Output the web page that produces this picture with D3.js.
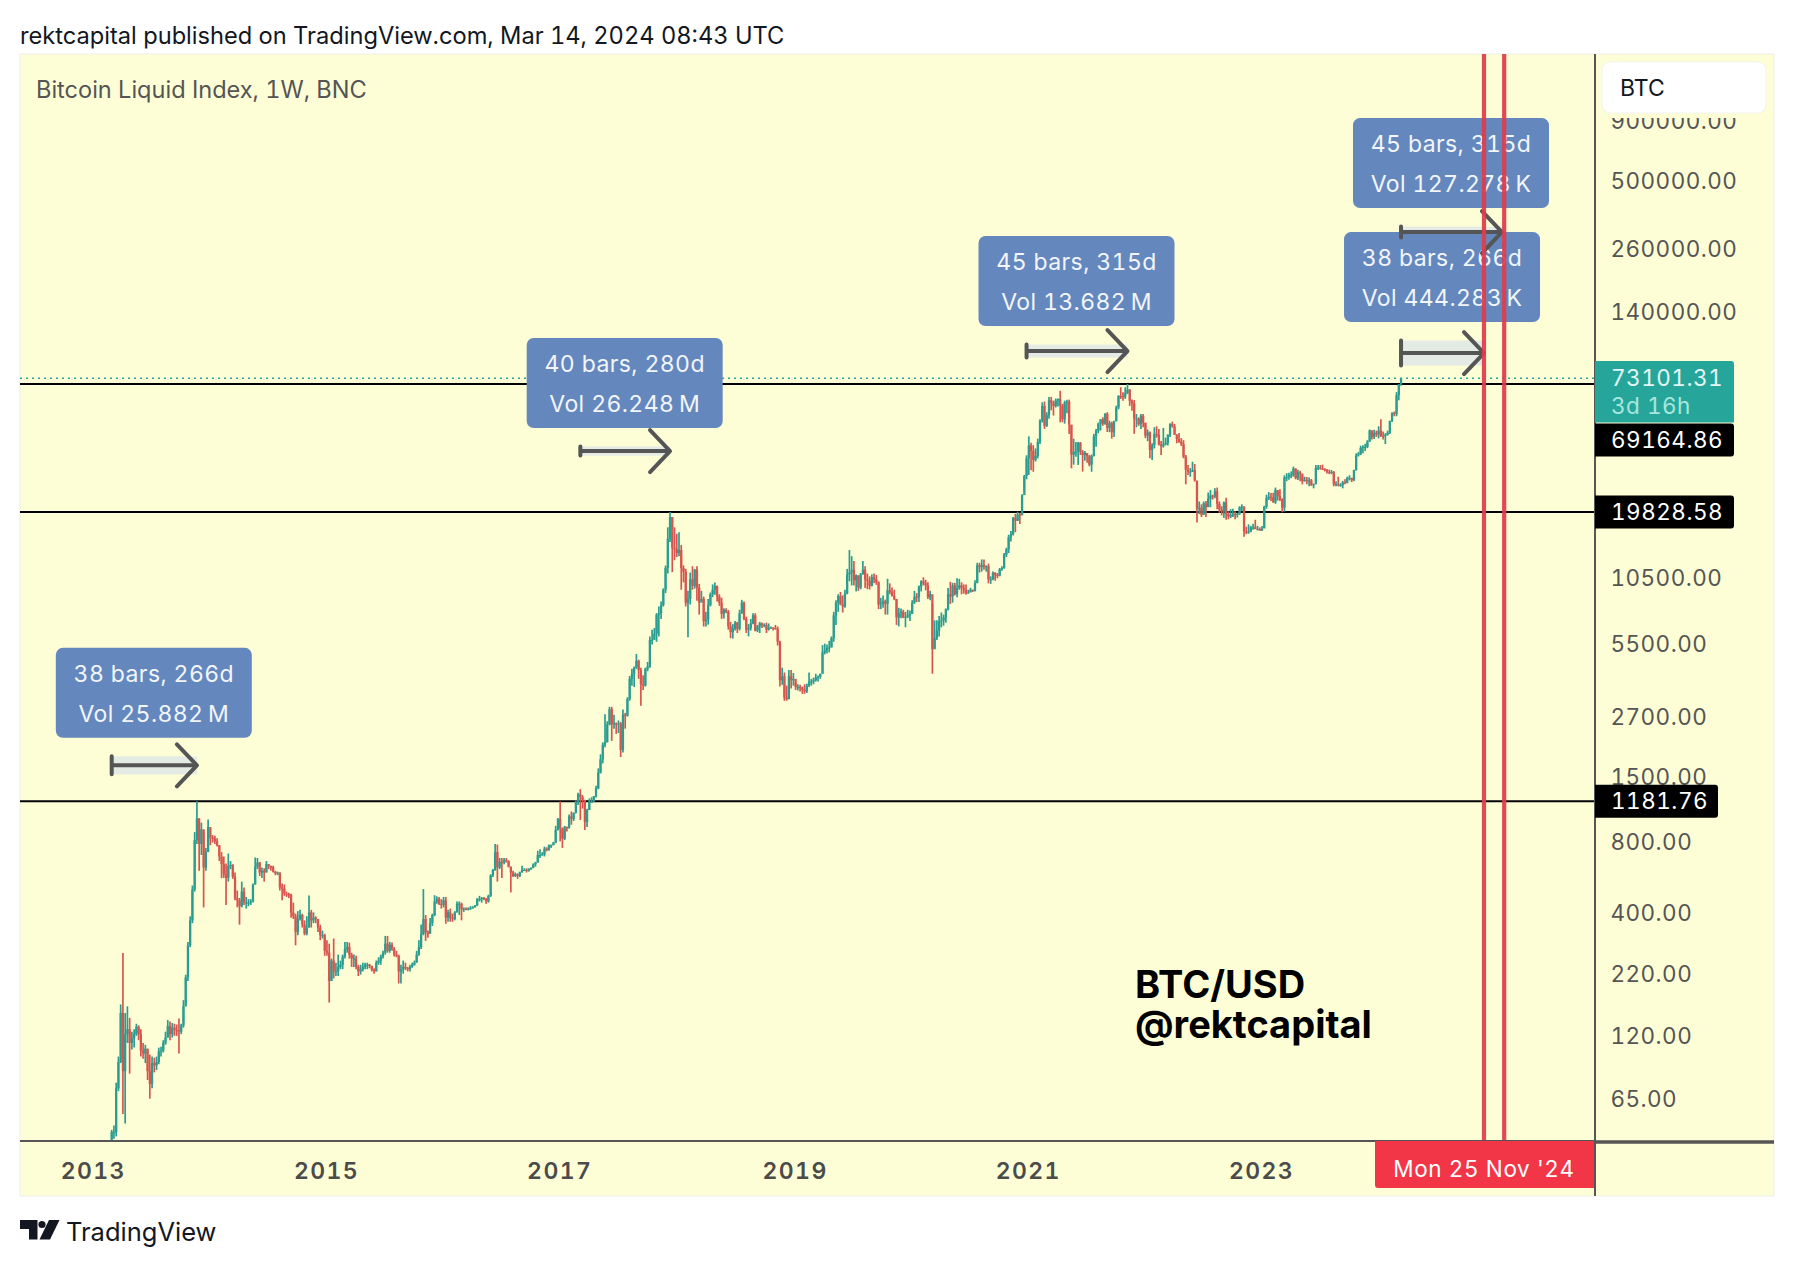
<!DOCTYPE html>
<html><head><meta charset="utf-8">
<script src="https://cdn.jsdelivr.net/npm/d3@7"></script>
<style>html,body{margin:0;background:#fff}svg{display:block}text{font-family:Inter,"Noto Sans",sans-serif;font-variant-numeric:tabular-nums}</style>
</head><body><svg id="c" width="1794" height="1266"></svg>
<script>
// weekly bars, first Monday 2013-03-04; every row holds ten weeks
const firstWeek = "2013-03-04";
const highs = [
48,50,76,98,163,269,150,160,143,125,
128,135,133,128,112,110,105,100,98,97,
98,107,108,115,125,140,138,136,135,134,
142,135,170,218,300,385,520,875,1181,1000,
960,873,750,990,850,850,845,825,770,720,
690,645,710,660,640,590,495,460,540,510,
465,455,455,530,683,680,655,620,615,660,
640,630,630,600,595,590,530,525,490,485,
480,440,395,405,410,395,370,385,472,410,
400,385,370,355,335,325,305,295,255,310,
245,265,250,265,300,300,298,270,265,262,
240,240,245,245,245,242,238,232,250,258,
265,275,318,318,300,298,285,275,265,240,
250,245,235,240,245,250,275,305,355,502,
390,335,379,395,473,468,465,455,465,465,
410,415,395,405,445,445,440,420,420,420,
425,425,430,460,470,465,465,460,475,580,
610,780,775,680,680,680,680,665,625,600,
590,585,595,630,615,615,615,620,645,655,
730,740,720,760,755,775,775,795,930,1005,
1180,915,930,925,1040,1070,1060,1190,1285,1330,
1255,1180,1100,1215,1230,1245,1375,1630,1870,2100,
2760,2580,2970,2970,2750,2550,2600,2560,2890,2800,
3260,4010,4300,4400,4970,4700,4350,4040,4350,4600,
5900,6300,6400,7400,7900,8300,9430,11780,17100,19828.58,
18900,17100,16060,16300,14400,11800,11400,9200,11000,11700,
11400,11700,9850,9200,8700,7500,8500,9050,9800,9990,
9700,8900,8600,7770,7770,7630,6800,6650,6850,6800,
7650,8430,8300,7150,6650,7000,7400,7400,6600,6800,
6750,6700,6750,6700,6500,6450,6600,6500,5650,4350,
4150,3650,4250,4250,4130,3750,3700,3680,3620,3700,
3720,4150,3900,3950,4100,4030,4100,5420,5500,5450,
5650,5900,7500,8400,8900,9100,8800,9300,11400,13700,
12900,12300,10800,10700,10950,12300,11700,10900,10600,10800,
10900,10750,10100,8600,8800,8450,10350,9900,9500,9300,
8500,7800,7750,7650,7500,7650,7600,8400,9200,9000,
9700,10200,10500,10250,10000,9200,8100,6900,6900,7200,
7450,7300,7750,9450,10050,9950,9950,10400,10350,10000,
9800,9800,9300,9480,9300,10200,12100,12100,12500,12500,
11800,12000,10600,11100,11000,10950,11500,11700,13300,14000,
15900,16500,18900,19500,19900,19700,23600,28500,34500,41500,
39000,38100,36900,40600,49100,57900,58300,52500,61000,61000,
58800,60000,60000,64800,57000,58800,59300,59400,46500,40600,
39300,39300,39300,36300,36000,35000,34600,34800,42550,44650,
47500,49100,50000,52000,52500,48350,47900,48300,56000,62000,
67000,63800,67000,69164.86,65800,59500,59100,51600,50000,51600,
51600,47500,44400,43500,38800,45350,45800,44650,39700,45100,
41000,42300,47200,47900,46900,42400,42900,40800,40000,34600,
31400,30500,32400,31700,26700,22000,21400,22000,22100,24000,
24600,23500,25000,25200,22000,21000,22000,22800,20000,20400,
20500,20000,19700,21000,21400,21000,17200,17600,17350,17700,
18400,17350,17100,17300,21100,23500,24100,23900,23950,25200,
24400,24800,22700,28400,29000,29100,29500,30900,30400,30000,
29700,28000,28000,27900,27800,27400,26200,31400,31400,31400,
31500,30400,30200,30000,29900,29600,26800,28000,26300,26900,
27300,28000,28400,27700,30000,35200,35700,37900,38100,38600,
40000,44400,44000,44300,43900,45800,49000,43500,42800,43900,
48300,52500,52900,63900,69000,73101.31];
const lows = [
44,44,45,70,92,56,51,112,83,105,
107,120,115,98,96,92,78,65,72,84,
86,91,98,102,110,118,115,118,120,120,
101,122,130,160,205,285,360,490,780,600,
700,420,600,760,770,790,780,760,660,558,
560,430,540,610,555,450,420,355,420,430,
415,425,430,440,525,610,570,560,540,590,
610,600,590,575,575,495,450,470,465,460,
380,375,290,320,370,345,320,320,345,345,
360,360,330,305,310,262,262,166,205,210,
215,215,230,230,255,270,255,235,235,230,
215,218,225,230,230,232,225,220,225,240,
240,255,265,270,270,275,260,258,200,200,
220,228,225,225,233,238,245,262,280,320,
303,312,325,350,385,435,430,415,420,358,
365,365,365,370,400,390,370,402,408,408,
410,415,420,425,445,440,450,435,440,465,
565,600,540,610,560,640,650,620,486,565,
565,555,565,590,600,590,595,605,615,625,
650,680,695,690,725,730,750,770,785,890,
800,750,810,880,905,940,975,1050,1140,985,
1100,893,920,1085,1165,1170,1225,1330,1550,1710,
2000,2100,2480,2130,2400,2280,2300,1820,1900,2400,
2700,3150,3650,3600,4300,3900,3000,3500,3620,4200,
4350,5450,5900,5600,5900,7000,7900,9000,10900,14800,
11050,12400,12800,12900,9300,10000,7900,5850,8050,9300,
9400,8350,7300,8300,6500,6500,6620,7900,8650,8850,
8300,7950,7000,7030,7400,6300,5800,5780,6250,6100,
6250,7350,6900,6100,5900,6250,6650,6200,6150,6100,
6400,6450,6100,6250,6380,6250,6300,5400,3620,3680,
3150,3150,3200,3550,3650,3500,3480,3450,3370,3370,
3400,3600,3650,3700,3800,3800,3900,4100,4950,5000,
5050,5300,5600,6600,7500,8000,7450,7800,8900,10100,
9700,9700,9150,9200,9350,10800,9450,9350,9320,9600,
9900,9750,7700,7700,7800,7300,7300,8900,8700,8400,
6600,6500,7050,7050,6450,7050,6850,7350,8100,8250,
8250,9150,9700,9250,8500,8400,4100,5300,5700,5900,
6450,6550,6750,7600,8100,8200,8800,8650,9300,8900,
8950,8850,8950,9100,9100,9150,9900,11000,11100,11300,
11100,9900,9850,10200,10150,10400,10600,11200,11400,12800,
13300,14900,15800,16300,18200,17650,19400,24300,27300,28500,
29800,29400,32450,33500,38500,47500,44650,45500,49300,53500,
50850,55000,55500,47600,47600,47000,52000,42500,30400,31500,
34000,31400,34600,29450,32700,32100,31000,29400,34100,37500,
42800,43950,46000,46500,43300,43250,40600,41200,48000,54000,
59800,58800,59800,62700,55900,53300,42550,45350,46000,44650,
45350,40800,39600,33500,32950,36900,41000,38000,34600,37200,
38000,38000,41200,45200,42100,38800,39000,37800,33500,26000,
28500,28000,29300,26700,17900,19450,18900,19300,18900,20900,
20800,22400,22700,20400,19700,19200,18700,18400,18500,18700,
18900,18500,18800,19300,20000,15600,16000,16050,16300,16700,
16800,16600,16550,16550,17000,20500,22300,22100,21750,21500,
22200,22100,19800,19900,26800,27200,27600,28000,27300,27100,
26800,26000,26700,26000,25500,25600,25000,26200,29900,30000,
29900,29500,28900,28700,28700,25500,25500,25500,25400,25000,
26000,26300,27000,26600,26800,29700,34100,34600,35200,36000,
37000,39300,40300,40500,41300,40700,41200,40300,38500,41800,
42500,47700,50500,50500,59000,68000];
const closes = [
47,47,72,93,150,85,122,128,112,117,
122,131,122,104,101,106,85,75,92,90,
93,103,104,112,118,132,122,130,127,126,
125,133,160,212,290,370,500,810,1000,780,
900,620,720,920,830,820,800,770,690,640,
580,560,630,635,565,460,450,425,490,440,
440,440,445,525,625,650,590,600,590,640,
630,620,595,585,590,510,505,480,478,475,
400,385,330,375,390,355,325,345,400,370,
380,375,345,320,320,275,270,205,250,225,
225,235,240,260,280,285,265,255,255,235,
225,230,235,240,240,237,228,225,245,250,
260,270,295,275,292,280,265,262,225,230,
235,232,230,235,240,245,265,285,325,375,
330,325,360,390,445,455,435,430,450,380,
400,378,375,400,435,435,412,415,410,415,
418,420,428,455,455,460,455,445,470,575,
605,720,620,655,650,665,660,625,590,570,
580,570,590,605,605,600,612,618,640,650,
700,700,705,745,735,770,770,790,895,995,
905,820,920,915,1020,995,1055,1180,1265,1230,
1200,965,1085,1180,1180,1240,1340,1560,1780,2050,
2100,2500,2900,2500,2530,2500,2520,1950,2750,2720,
3200,3900,4100,4350,4650,4250,3700,3650,4300,4400,
5700,5700,6050,7300,7400,8000,9300,11500,15300,18900,
14000,13800,13300,13700,11500,11100,8200,8500,10300,9650,
11300,9500,8200,8500,6850,6950,8000,8900,9300,9650,
8700,8200,7350,7650,7500,6500,6150,6350,6750,6350,
7400,8200,7000,6300,6400,6700,7250,6250,6500,6700,
6600,6600,6300,6400,6420,6400,6350,5600,3850,4000,
3250,3200,4000,3850,3900,3600,3600,3580,3500,3450,
3650,3800,3800,3850,3950,3980,4100,5050,5150,5280,
5300,5800,7250,8200,8750,8050,7900,8950,10800,11000,
11300,10200,10700,9500,10800,11300,10300,10150,9650,10500,
10300,10000,8050,8150,8300,8100,9250,9100,8750,8500,
7100,7400,7500,7100,7150,7250,7350,8200,8700,8650,
9600,10100,9900,9700,8650,8900,5200,5800,6250,6850,
6900,7100,7700,8900,8700,9700,8900,9450,9700,9450,
9300,9000,9050,9300,9200,9950,11800,11600,11850,11650,
11700,10300,10300,11000,10750,10650,11350,11500,13100,13800,
15500,16000,18700,18200,19350,19200,23400,28200,33500,38000,
36000,33000,34300,39300,48500,55900,46000,51000,59000,57400,
55800,58800,59800,56000,49000,57800,58200,46500,34700,35700,
35800,39000,35600,34600,35300,34200,31500,34300,41500,43800,
47000,49000,47000,51800,45000,47200,43200,48200,55000,61500,
61300,61000,63300,65500,58700,57200,49300,49300,46800,50800,
47300,41800,43100,36300,38100,42500,42100,38300,37700,38400,
39000,42200,46800,45800,42200,40400,39400,38500,34000,30000,
29400,29400,29900,27000,20500,20700,19300,21600,20800,22600,
23300,23100,24300,21500,20300,20000,21800,19400,19000,19300,
19400,19300,19500,20800,20900,16400,16300,16400,17100,17100,
16800,16800,16550,16900,20900,22700,23000,22900,21800,24600,
23200,22400,20700,27800,27900,28400,28400,30300,27600,29200,
28900,26800,27100,26800,27000,25800,26000,30500,30600,30300,
30250,29800,29300,29050,29300,26000,26000,25800,25800,26500,
26300,27700,27700,27100,29900,34500,35000,37100,37400,37450,
39500,44000,41300,43000,42300,43900,41700,41600,42100,43000,
48300,52100,51600,62000,68900,73101.31];
const openFirst = 40;

const priceTicks = [900000,500000,260000,140000,10500,5500,2700,1500,800,400,220,120,65];
const yearTicks = ["2013-01-07","2015-01-05","2017-01-02","2019-01-07","2021-01-04","2023-01-02"];
const levels = [69164.86,19828.58,1181.76];
const lastPrice = 73101.31;
const lastCountdown = "3d 16h";
const redDates = ["2024-11-25","2025-01-27"];
const redDateLabel = "Mon 25 Nov '24";
const rangeStarts = ["2013-03-04","2017-03-06","2020-12-28","2024-03-11","2024-03-11"];
const rangeEnds   = ["2013-11-25","2017-12-11","2021-11-08","2024-11-25","2025-01-20"];
const rangeTops   = [1832,37600,101600,105600,321000];
const rangeBottoms= [1537,34400,89500,82800,288400];
const rangeLine1  = ["38 bars, 266d","40 bars, 280d","45 bars, 315d","38 bars, 266d","45 bars, 315d"];
const rangeLine2  = ["Vol 25.882\u2009M","Vol 26.248\u2009M","Vol 13.682\u2009M","Vol 444.283\u2009K","Vol 127.278\u2009K"];

const L=20,R=1595,T=54,B=1141,PR=1774,PB=1196;
const BG="#fefed6",TEAL="#26a69a",BAR_UP="#2a9d90",BAR_DN="#d8554f",AX="#565656",BLUE="#6488bd",LINE="#e13c4b";
const parse=d3.utcParse("%Y-%m-%d");
const x=d3.scaleUtc().domain([parse(firstWeek),parse("2024-11-25")]).range([111.7,1484]);
const y=d3.scaleLog().domain([1181.76,69164.86]).range([801.3,384]);
const bars=closes.map((c,i)=>({d:d3.utcDay.offset(parse(firstWeek),i*7),h:highs[i],l:lows[i],c,o:i?closes[i-1]:openFirst}));
const svg=d3.select("#c");
svg.append("rect").attr("width",1794).attr("height",1266).attr("fill","#fff");
svg.append("text").attr("x",20).attr("y",44).attr("font-size",23.65).attr("fill","#131722").text("rektcapital published on TradingView.com, Mar 14, 2024 08:43 UTC");
svg.append("rect").attr("x",L).attr("y",T).attr("width",PR-L).attr("height",PB-T).attr("fill",BG).attr("stroke","#eeeeea").attr("stroke-width",1);
svg.append("text").attr("x",36).attr("y",98).attr("font-size",23.55).attr("fill","#555").text("Bitcoin Liquid Index, 1W, BNC");

const defs=svg.append("defs");
defs.append("clipPath").attr("id","plot").append("rect").attr("x",L).attr("y",T).attr("width",R-L).attr("height",B-T);
const plot=svg.append("g").attr("clip-path","url(#plot)");

// last price dotted line and horizontal levels
plot.append("line").attr("x1",L).attr("x2",R).attr("y1",y(lastPrice)).attr("y2",y(lastPrice)).attr("stroke",TEAL).attr("stroke-width",1.6).attr("stroke-dasharray","2 4");
plot.selectAll("line.level").data(levels).join("line").attr("class","level").attr("x1",L).attr("x2",R)
 .attr("y1",d=>y(d)).attr("y2",d=>y(d)).attr("stroke","#000").attr("stroke-width",2);

// weekly candles
const col=d=>d.c>=d.o?BAR_UP:BAR_DN;
plot.selectAll("line.w").data(bars).join("line").attr("class","w")
 .attr("x1",d=>x(d.d)).attr("x2",d=>x(d.d)).attr("y1",d=>y(d.h)).attr("y2",d=>y(d.l))
 .attr("stroke",col).attr("stroke-width",1.7);
plot.selectAll("rect.b").data(bars).join("rect").attr("class","b")
 .attr("x",d=>x(d.d)-1.15).attr("width",2.3)
 .attr("y",d=>Math.min(y(d.o),y(d.c))).attr("height",d=>Math.max(1,Math.abs(y(d.o)-y(d.c))))
 .attr("fill",col);

// date-range tools
const ranges=rangeStarts.map((s,i)=>({x0:x(parse(s)),x1:x(parse(rangeEnds[i])),yt:y(rangeTops[i]),yb:y(rangeBottoms[i]),a:rangeLine1[i],b:rangeLine2[i]}));
const rg=plot.append("g");
rg.selectAll("rect.shade").data(ranges).join("rect").attr("class","shade").attr("x",d=>d.x0).attr("width",d=>d.x1-d.x0)
 .attr("y",d=>d.yt).attr("height",d=>d.yb-d.yt).attr("fill","#e3ebe4");
const boxes=rg.selectAll("g.box").data(ranges).join("g").attr("class","box")
 .attr("transform",d=>`translate(${(d.x0+d.x1)/2-.5},${d.yt-18.5-90})`);
boxes.append("rect").attr("x",-98).attr("y",0).attr("width",196).attr("height",90).attr("rx",7).attr("fill",BLUE);
boxes.append("text").attr("text-anchor","middle").attr("y",34).attr("font-size",23).attr("letter-spacing",.4).attr("fill","#f2f5fa").text(d=>d.a);
boxes.append("text").attr("text-anchor","middle").attr("y",74).attr("font-size",23).attr("letter-spacing",.4).attr("fill","#f2f5fa").text(d=>d.b);
const ar=rg.selectAll("g.arrow").data(ranges).join("g").attr("class","arrow").attr("fill","none").attr("stroke","#555").attr("stroke-width",4).attr("stroke-linecap","round").attr("stroke-linejoin","round");
ar.append("path").attr("d",d=>{const m=(d.yt+d.yb)/2;return `M${d.x0},${d.yt}V${d.yb}M${d.x0},${m}H${d.x1-1}`;});
ar.append("path").attr("d",d=>{const m=(d.yt+d.yb)/2;return `M${d.x1-20},${m-21}L${d.x1},${m}L${d.x1-20},${m+21}`;});

// red vertical lines
plot.selectAll("line.red").data(redDates).join("line").attr("class","red")
 .attr("x1",d=>x(parse(d))).attr("x2",d=>x(parse(d))).attr("y1",T).attr("y2",B)
 .attr("stroke",LINE).attr("stroke-width",4.2).attr("opacity",.93);

// price axis
const yAxis=d3.axisRight(y).tickValues(priceTicks).tickFormat(d3.format(".2f")).tickSize(0).tickPadding(0);
const ya=svg.append("g").attr("transform",`translate(1610.5,.6)`).call(yAxis);
ya.select(".domain").remove();
ya.selectAll("text").attr("font-size",22.5).attr("fill","#555").attr("letter-spacing",.45).attr("font-family","Inter");
// BTC box hides the clipped top label
svg.append("rect").attr("x",1597).attr("y",55).attr("width",176).attr("height",63).attr("fill",BG);
svg.append("rect").attr("x",1602).attr("y",62).attr("width",164).attr("height",51).attr("rx",8).attr("fill","#fff").attr("stroke","#f3f3ee");
svg.append("text").attr("x",1620).attr("y",96).attr("font-size",23).attr("fill","#131722").text("BTC");

// time axis
const xAxis=d3.axisBottom(x).tickValues(yearTicks.map(parse)).tickFormat(d3.utcFormat("%Y")).tickSize(0).tickPadding(0);
const xa=svg.append("g").attr("transform",`translate(-1,${B+22})`).call(xAxis);
xa.select(".domain").remove();
xa.selectAll("text").attr("dy","0.71em").attr("font-size",23).attr("font-weight",600).attr("fill","#4b4b4b").attr("letter-spacing",1.4).attr("font-family","Inter");

// axis rules
svg.append("line").attr("x1",L).attr("x2",R).attr("y1",B).attr("y2",B).attr("stroke",AX).attr("stroke-width",2);
svg.append("line").attr("x1",R).attr("x2",PR).attr("y1",B+1).attr("y2",B+1).attr("stroke",AX).attr("stroke-width",3.5);
svg.append("line").attr("x1",R).attr("x2",R).attr("y1",T).attr("y2",PB).attr("stroke",AX).attr("stroke-width",2);

// red date label
svg.append("path").attr("d",`M1375,${B}H1594V1188H1378a3,3 0 0 1 -3,-3Z`).attr("fill","#f23648");
svg.append("text").attr("x",x(parse(redDates[0]))).attr("y",1177).attr("text-anchor","middle").attr("font-size",22.5).attr("fill","#fff").attr("letter-spacing",.6).text(redDateLabel);

// price tags: the highest level's tag is pushed below the last-price tag, as the platform does
const tagW=[139,139,123], tagPush=[56,0,0];
const tags=svg.selectAll("g.tag").data(levels).join("g").attr("class","tag").attr("transform",(d,i)=>`translate(${R},${y(d)+tagPush[i]})`);
tags.append("path").attr("d",(d,i)=>`M0,-16.5H${tagW[i]-3}a3,3 0 0 1 3,3V13.5a3,3 0 0 1 -3,3H0Z`).attr("fill","#000");
tags.append("text").attr("x",16).attr("y",8).attr("font-size",22.5).attr("fill","#fff").attr("letter-spacing",.5).text(d=>d.toFixed(2));
const lastG=svg.append("g").attr("transform",`translate(${R},361)`);
lastG.append("path").attr("d","M0,0H136a3,3 0 0 1 3,3V61.5H0Z").attr("fill",TEAL);
lastG.append("text").attr("x",16).attr("y",25).attr("font-size",22.5).attr("fill","#e4f6f3").attr("letter-spacing",.5).text(lastPrice.toFixed(2));
lastG.append("text").attr("x",16).attr("y",53).attr("font-size",22.5).attr("fill","#a9e6dd").attr("letter-spacing",.5).text(lastCountdown);

// watermark note
svg.append("text").attr("x",1135).attr("y",998).attr("font-size",38).attr("font-weight",700).attr("fill","#000").text("BTC/USD");
svg.append("text").attr("x",1135).attr("y",1038).attr("font-size",38).attr("font-weight",700).attr("fill","#000").text("@rektcapital");

// TradingView logo
const logo=svg.append("g").attr("transform","translate(20,1200)").attr("fill","#131722");
logo.append("path").attr("d","M0,20H17.5V39.5H9V29H0Z");
logo.append("circle").attr("cx",22).attr("cy",24.5).attr("r",3.6);
logo.append("path").attr("d","M29,20H39.5L30,39.5H19.5Z");
svg.append("text").attr("x",66).attr("y",1240.5).attr("font-size",25.5).attr("fill","#131722").text("TradingView");
</script></body></html>
